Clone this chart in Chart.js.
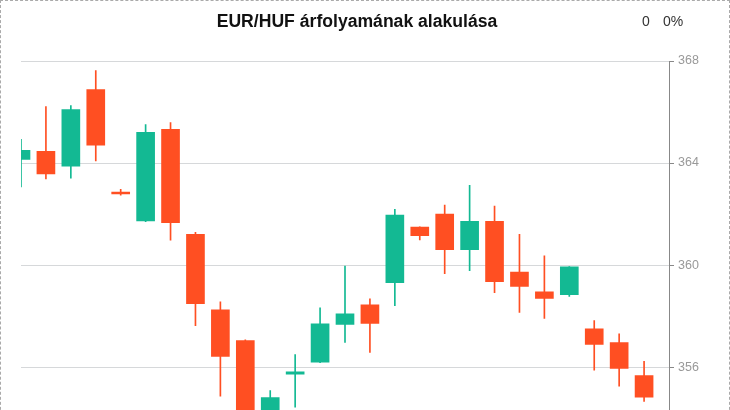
<!DOCTYPE html>
<html>
<head>
<meta charset="utf-8">
<script src="https://cdn.jsdelivr.net/npm/chart.js@4"></script>
<style>
    body { margin: 0; overflow: hidden; font-family: "Liberation Sans", Arial, sans-serif; }
    #frame { position: absolute; left: 0; top: 0; width: 730px; height: 440px; box-sizing: border-box; border: 1px dashed #aaa; }
    #title { position: absolute; left: 0; width: 714px; top: 11px; text-align: center; font-size: 17.6px; font-weight: bold; color: #111; }
    .stat { position: absolute; top: 13px; font-size: 14px; color: #333; }
    #wrap { position: absolute; left: 0; top: 0; width: 730px; height: 410px; overflow: hidden; }
</style>
</head>
<body>
<div id="frame"></div>
<div id="wrap"><canvas id="eurHuf" width="730" height="422"></canvas></div>
<div id="title">EUR/HUF árfolyamának alakulása</div>
<div class="stat" style="left:642px">0</div>
<div class="stat" style="left:663px">0%</div>
<script>
var days = ["1", "2", "3", "4", "5", "6", "7", "8", "9", "10", "11", "12", "13", "14",
    "15", "16", "17", "18", "19", "20", "21", "22", "23", "24", "25", "26", "27"];
var opens = [364.14, 364.46, 363.88, 366.88, 362.86, 361.73, 365.32, 361.21, 358.25, 357.04,
    354.20, 355.72, 356.19, 357.67, 358.44, 359.31, 361.49, 362.00, 360.60, 361.72,
    359.73, 358.95, 358.84, 357.50, 356.96, 355.67];
var highs = [364.93, 366.21, 366.25, 367.62, 362.97, 365.51, 365.59, 361.28, 358.56, 357.07,
    355.08, 356.49, 358.32, 359.96, 358.68, 362.19, 361.50, 362.35, 363.13, 362.31,
    361.21, 360.36, 359.94, 357.82, 357.31, 356.23];
var lows = [363.06, 363.38, 363.41, 364.08, 362.74, 361.70, 360.98, 357.63, 354.86, 353.80,
    354.00, 354.43, 356.17, 356.97, 356.58, 358.41, 360.99, 359.66, 359.78, 358.92,
    358.14, 357.91, 358.77, 355.88, 355.25, 354.66];
var closes = [364.50, 363.57, 366.10, 364.70, 362.79, 365.20, 361.66, 358.49, 356.42, 354.10,
    354.81, 355.82, 357.70, 358.09, 357.71, 361.96, 361.15, 360.60, 361.72, 359.35,
    359.16, 358.69, 359.93, 356.89, 355.95, 354.82];
var yTicks = [356, 360, 364, 368];

function candleChart() {
    var up = "#13b993";
    var down = "#ff4f22";
    var bodies = [];
    var wicks = [];
    var colors = [];

    for (var i = 0; i < opens.length; i++) {
        bodies.push([opens[i], closes[i]]);
        wicks.push([lows[i], highs[i]]);
        colors.push(closes[i] >= opens[i] ? up : down);
    }

    new Chart("eurHuf", {
        type: "bar",
        data: {
            labels: days,
            datasets: [{
                data: bodies,
                backgroundColor: colors,
                barThickness: 18,
                grouped: false,
                clip: 0
            }, {
                data: wicks,
                backgroundColor: colors,
                barThickness: 1,
                grouped: false,
                clip: 0
            }]
        },
        options: {
            responsive: false,
            animation: false,
            layout: { padding: { left: 21, top: 61, right: 0, bottom: 0 } },
            plugins: {
                legend: { display: false },
                tooltip: { enabled: false }
            },
            scales: {
                x: {
                    display: false,
                    offset: false
                },
                y: {
                    position: "right",
                    min: 354.3,
                    max: 368,
                    afterBuildTicks: function (axis) {
                        axis.ticks = yTicks.map(function (v) { return { value: v }; });
                    },
                    afterFit: function (axis) {
                        axis.width = 61;
                    },
                    border: { color: "#888", width: 1 },
                    grid: { color: "#d6d8da", tickColor: "#888", tickLength: 5 },
                    ticks: {
                        color: "#999",
                        padding: 4,
                        font: { family: "Liberation Sans", size: 12.5 }
                    }
                }
            }
        }
    });
}

candleChart();
</script>
</body>
</html>
